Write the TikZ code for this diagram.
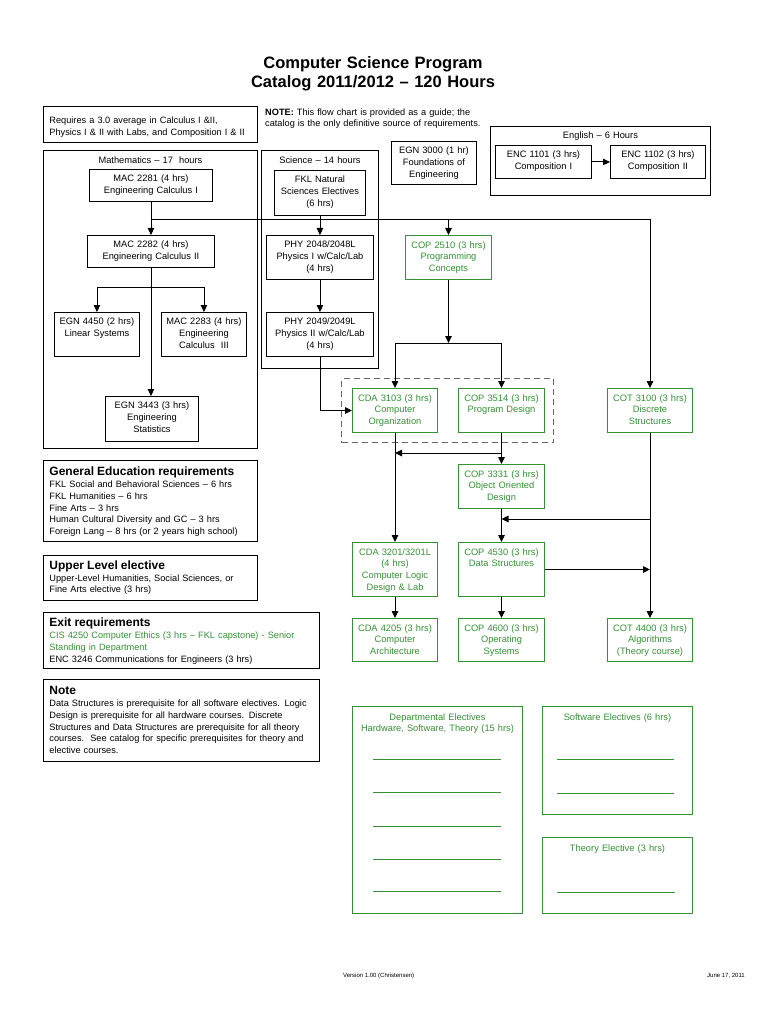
\documentclass[tikz,border=0pt]{standalone}
\usepackage{fontspec}
\setmainfont{Liberation Sans}
\usetikzlibrary{arrows.meta}
\definecolor{csgreen}{RGB}{52,145,52}
\newcommand{\boxhead}[1]{{\fontsize{12}{12}\selectfont\bfseries #1}}

\begin{document}
\begin{tikzpicture}[x=1pt,y=-1pt,
  box/.style={draw,line width=0.9pt,anchor=north west,inner sep=0pt,align=center,
    font=\fontsize{9.3}{11.7}\selectfont,text height=12.5pt},
  course/.style={box,draw=csgreen,text=csgreen,line width=1pt},
  wd/.style 2 args={text width=#1pt,text depth=#2pt},
  info/.style={draw,line width=0.9pt,anchor=north west,inner xsep=6pt,inner ysep=0pt,
    align=left,font=\fontsize{9.2}{11.7}\selectfont},
  arr/.style={line width=0.9pt,-{Triangle[length=7pt,width=6.5pt]}},
  conn/.style={line width=0.9pt}]
\useasboundingbox (0,0) rectangle (768,1024);

\node[anchor=base,inner sep=0pt,text width=300pt,align=center,
  font=\fontsize{16.5}{19}\selectfont\bfseries] (title) at (373,69)
  {Computer Science Program\\Catalog 2011/2012 -- 120 Hours};
\node[anchor=base west,inner sep=0pt,text width=240pt,align=left,
  font=\fontsize{9.2}{11}\selectfont] (guide) at (265,115.5)
  {\textbf{NOTE:} This flow chart is provided as a guide; the\\catalog is the only definitive source of requirements.};

\node[info,text width=202pt,text height=17.5pt,text depth=18.5pt] (gpa) at (43,106)
  {Requires a 3.0 average in Calculus I \&II,\\Physics I \& II with Labs, and Composition I \& II};

\node[box,wd={214}{284.5},text height=13.5pt] (math) at (43,150) {Mathematics -- 17\ \ hours};
\node[box,wd={117}{204.5},text height=13.5pt] (sci) at (261,150) {Science -- 14 hours};
\node[box,wd={220}{56.5}] (english) at (490,126) {English -- 6 Hours};

\node[box,wd={123}{19.5}] (mac2281) at (89,169) {MAC 2281 (4 hrs)\\Engineering Calculus I};
\node[box,wd={127}{19.5}] (mac2282) at (87,235) {MAC 2282 (4 hrs)\\Engineering Calculus II};
\node[box,wd={85}{31.5}] (egn4450) at (54,312) {EGN 4450 (2 hrs)\\Linear Systems};
\node[box,wd={85}{31.5}] (mac2283) at (161,312) {MAC 2283 (4 hrs)\\Engineering\\Calculus\ \ III};
\node[box,wd={93}{32.5}] (egn3443) at (105,396) {EGN 3443 (3 hrs)\\Engineering\\Statistics};

\node[box,wd={91}{32.5}] (fkl) at (274,170) {FKL Natural\\Sciences Electives\\(6 hrs)};
\node[box,wd={107}{31.5}] (phy2048) at (266,235) {PHY 2048/2048L\\Physics I w/Calc/Lab\\(4 hrs)};
\node[box,wd={107}{31.5}] (phy2049) at (266,312) {PHY 2049/2049L\\Physics II w/Calc/Lab\\(4 hrs)};

\node[box,wd={85}{30.5}] (egn3000) at (391,141) {EGN 3000 (1 hr)\\Foundations of\\Engineering};
\node[box,wd={96}{20.5}] (enc1101) at (495,145) {ENC 1101 (3 hrs)\\Composition I};
\node[box,wd={95}{20.5}] (enc1102) at (610,145) {ENC 1102 (3 hrs)\\Composition II};

\node[course,wd={86}{31.5}] (cop2510) at (405,235) {COP 2510 (3 hrs)\\Programming\\Concepts};
\node[draw=black!60,dash pattern=on 6pt off 4pt,line width=1pt,anchor=north west,inner sep=0pt,
  minimum width=212pt,minimum height=64pt] (core) at (341,378) {};
\node[course,wd={85}{31.5}] (cda3103) at (352,388) {CDA 3103 (3 hrs)\\Computer\\Organization};
\node[course,wd={86}{31.5}] (cop3514) at (458,388) {COP 3514 (3 hrs)\\Program Design};
\node[course,wd={85}{31.5}] (cot3100) at (607,388) {COT 3100 (3 hrs)\\Discrete\\Structures};
\node[course,wd={86}{31.5}] (cop3331) at (458,464) {COP 3331 (3 hrs)\\Object Oriented\\Design};
\node[course,wd={85}{41.5}] (cda3201) at (352,542) {CDA 3201/3201L\\(4 hrs)\\Computer Logic\\Design \& Lab};
\node[course,wd={86}{41.5}] (cop4530) at (458,542) {COP 4530 (3 hrs)\\Data Structures};
\node[course,wd={85}{30.5}] (cda4205) at (352,618) {CDA 4205 (3 hrs)\\Computer\\Architecture};
\node[course,wd={86}{30.5}] (cop4600) at (458,618) {COP 4600 (3 hrs)\\Operating\\Systems};
\node[course,wd={85}{30.5}] (cot4400) at (607,618) {COT 4400 (3 hrs)\\Algorithms\\(Theory course)};

\coordinate (split) at (150.5,219);
\coordinate (calcsplit) at (150.5,287);
\coordinate (progsplit) at (448,343);
\coordinate (desjoin) at (501,453);
\coordinate (oodjoin) at (649.5,519);

\draw[arr] (mac2281.south) -- (mac2281.south |- mac2282.north);
\draw[conn] (split) -- (cot3100.north |- split);
\draw[arr] (cop2510.north |- split) -- (cop2510.north);
\draw[arr] (cot3100.north |- split) -- (cot3100.north);
\draw[arr] (mac2282.south) -- (mac2282.south |- egn3443.north);
\draw[arr] (calcsplit) -| (egn4450.north);
\draw[arr] (calcsplit) -| (mac2283.north);
\draw[arr] (fkl) -- (phy2048);
\draw[arr] (phy2048) -- (phy2049);
\draw[arr] (phy2049.south) |- (cda3103.west);
\draw[arr] (enc1101) -- (enc1102);
\draw[arr] (cop2510.south) -- (cop2510.south |- progsplit);
\draw[arr] (progsplit) -| (cda3103.north);
\draw[arr] (progsplit) -| (cop3514.north);
\draw[arr] (cop3514) -- (cop3331);
\draw[arr] (desjoin) -- (cda3103.south |- desjoin);
\draw[arr] (cda3103) -- (cda3201);
\draw[arr] (oodjoin) -- (cop3331.south |- oodjoin);
\draw[arr] (cop3331) -- (cop4530);
\draw[arr] (cot3100) -- (cot4400);
\draw[arr] (cop4530.east) -- (cot3100.south |- cop4530.east);
\draw[arr] (cda3201) -- (cda4205);
\draw[arr] (cop4530) -- (cop4600);

\node[info,text width=202pt,text height=15.5pt,text depth=65.5pt] (gened) at (43,460)
  {\boxhead{General Education requirements}\\
   FKL Social and Behavioral Sciences -- 6 hrs\\
   FKL Humanities -- 6 hrs\\
   Fine Arts -- 3 hrs\\
   Human Cultural Diversity and GC -- 3 hrs\\
   Foreign Lang -- 8 hrs (or 2 years high school)};
\node[info,text width=202pt,text height=14pt,text depth=31pt] (upper) at (43,555)
  {\boxhead{Upper Level elective}\\
   Upper-Level Humanities, Social Sciences, or\\
   Fine Arts elective (3 hrs)};
\node[info,text width=264pt,text height=14.5pt,text depth=41.5pt] (exit) at (43,612)
  {\boxhead{Exit requirements}\\
   \textcolor{csgreen}{CIS 4250 Computer Ethics (3 hrs -- FKL capstone) - Senior\\
   Standing in Department}\\
   ENC 3246 Communications for Engineers (3 hrs)};
\node[info,text width=264pt,text height=15.5pt,text depth=66.5pt] (note) at (43,679)
  {\boxhead{Note}\\
   Data Structures is prerequisite for all software electives. Logic\\
   Design is prerequisite for all hardware courses. Discrete\\
   Structures and Data Structures are prerequisite for all theory\\
   courses.\ \ See catalog for specific prerequisites for theory and\\
   elective courses.};

\node[course,wd={170}{193.5},text height=13.5pt] (deptel) at (352,706)
  {Departmental Electives\\Hardware, Software, Theory (15 hrs)};
\node[course,wd={150}{94.5},text height=13.5pt] (softel) at (542,706) {Software Electives (6 hrs)};
\node[course,wd={150}{62.5},text height=13.5pt] (theoryel) at (542,837) {Theory Elective (3 hrs)};
\foreach \y in {759,792,826,859,891}
  \draw[csgreen,line width=1pt] (373,\y) -- (501,\y);
\foreach \y in {759,793}
  \draw[csgreen,line width=1pt] (557,\y) -- (674,\y);
\draw[csgreen,line width=1pt] (557,892) -- (675,892);

\node[anchor=base west,inner sep=0pt,font=\fontsize{6}{7}\selectfont] (version) at (343,977)
  {Version 1.00 (Christensen)};
\node[anchor=base east,inner sep=0pt,font=\fontsize{6}{7}\selectfont] (date) at (745,977)
  {June 17, 2011};
\end{tikzpicture}
\end{document}
